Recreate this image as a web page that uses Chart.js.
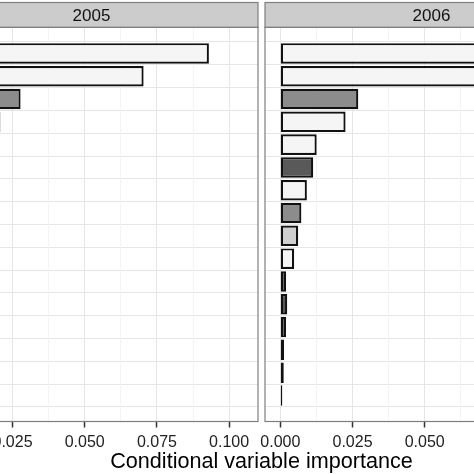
<!DOCTYPE html>
<html>
<head>
<meta charset="utf-8">
<script src="https://cdn.jsdelivr.net/npm/chart.js@4.4.1/dist/chart.umd.min.js"></script>
<style>
  html, body { margin: 0; padding: 0; background: #fff; }
  body { width: 474px; height: 474px; overflow: hidden; position: relative; font-family: "Liberation Sans", Arial, sans-serif; }
  canvas { position: absolute; top: 0; }
  #chart2005 { left: -80px; }
  #chart2006 { left: 260px; }
  #xTitle { position: absolute; left: -75px; width: 673px; top: 449.5px; text-align: center; font-size: 21.6px; line-height: 21.6px; color: #000; white-space: nowrap; }
</style>
</head>
<body>
<canvas id="chart2005" width="340" height="474"></canvas>
<canvas id="chart2006" width="340" height="474"></canvas>
<div id="xTitle">Conditional variable importance</div>
<script>
// variable names sit left of the crop, so they are placeholders
const categories = ["v01", "v02", "v03", "v04", "v05", "v06", "v07", "v08",
  "v09", "v10", "v11", "v12", "v13", "v14", "v15", "v16"];

const values2005 = [0.093, 0.0704, 0.0278, 0.0208, 0.018, 0.015, 0.012, 0.010,
  0.008, 0.006, 0.005, 0.004, 0.003, 0.002, 0.001, 0.0005];
const values2006 = [0.1047, 0.088, 0.0270, 0.0226, 0.0126, 0.0114, 0.0092, 0.0073,
  0.0062, 0.0048, 0.0020, 0.0024, 0.0020, 0.0013, 0.0012, 0.0007];

const fills2005 = ["#f5f5f5", "#f5f5f5", "#8c8c8c", "#cfcfcf", "#f5f5f5", "#595959", "#f5f5f5", "#8c8c8c",
  "#cfcfcf", "#f5f5f5", "#595959", "#595959", "#595959", "#595959", "#595959", "#595959"];
const fills2006 = ["#f5f5f5", "#f5f5f5", "#8c8c8c", "#f5f5f5", "#f5f5f5", "#595959", "#f5f5f5", "#8c8c8c",
  "#cfcfcf", "#f5f5f5", "#595959", "#595959", "#595959", "#595959", "#595959", "#595959"];

const xMajorTicks = [0, 0.025, 0.05, 0.075, 0.1];
const xMinorTicks = [0.0125, 0.0375, 0.0625, 0.0875];
const xLimits = [-0.0053, 0.110];

const FONT = '"Liberation Sans", Arial, sans-serif';

function isMajor(value) {
  return xMajorTicks.some((t) => Math.abs(t - value) < 1e-9);
}

const facetStrip = {
  id: "facetStrip",
  afterDraw(chart, args, opts) {
    const { ctx, chartArea: a } = chart;
    const stripTop = 2.5;
    ctx.save();
    ctx.fillStyle = "#cccccc";
    ctx.fillRect(a.left, stripTop, a.right - a.left, a.top - stripTop);
    ctx.strokeStyle = "#7f7f7f";
    ctx.lineWidth = 1.2;
    ctx.strokeRect(a.left, stripTop, a.right - a.left, a.top - stripTop);
    ctx.strokeRect(a.left, a.top, a.right - a.left, a.bottom - a.top);
    ctx.fillStyle = "#111111";
    ctx.font = "17px " + FONT;
    ctx.textAlign = "center";
    ctx.textBaseline = "middle";
    ctx.fillText(opts.label, (a.left + a.right) / 2, (stripTop + a.top) / 2 + 1);
    ctx.restore();
  }
};

function makePanel(canvasId, year, values, fills, padLeft, padRight) {
  return new Chart(document.getElementById(canvasId), {
    type: "bar",
    data: {
      datasets: [{
        label: year,
        data: values.map((v, i) => ({ x: v, y: i })),
        backgroundColor: fills,
        borderColor: "#111111",
        borderWidth: 2.2,
        borderSkipped: false,
        barPercentage: 0.9,
        categoryPercentage: 1.0
      }]
    },
    options: {
      indexAxis: "y",
      responsive: false,
      animation: false,
      devicePixelRatio: 1,
      layout: { padding: { left: padLeft, right: padRight, top: 27.4, bottom: 0 } },
      plugins: {
        legend: { display: false },
        tooltip: { enabled: false },
        facetStrip: { label: year }
      },
      scales: {
        y: {
          type: "linear",
          reverse: true,
          min: -0.6,
          max: categories.length - 0.4,
          afterBuildTicks: (scale) => {
            scale.ticks = categories.map((c, i) => ({ value: i, label: c }));
          },
          afterFit: (scale) => { scale.width = 0; },
          ticks: { display: false },
          grid: { color: "#e6e6e6", lineWidth: 1, drawTicks: false },
          border: { display: false }
        },
        x: {
          type: "linear",
          min: xLimits[0],
          max: xLimits[1],
          afterBuildTicks: (scale) => {
            scale.ticks = xMajorTicks.concat(xMinorTicks).sort((a, b) => a - b).map((v) => ({ value: v }));
          },
          afterFit: (scale) => {
            scale.height = 52.5;
            scale.paddingLeft = 0;
            scale.paddingRight = 0;
          },
          ticks: {
            autoSkip: false,
            maxRotation: 0,
            padding: 5,
            color: "#222222",
            font: { family: FONT, size: 16 },
            callback: (value) => (isMajor(value) ? value.toFixed(3) : "")
          },
          grid: {
            color: (ctx) => (ctx.tick && isMajor(ctx.tick.value) ? "#e6e6e6" : "#f4f4f4"),
            tickColor: (ctx) => (ctx.tick && isMajor(ctx.tick.value) ? "#333333" : "rgba(0,0,0,0)"),
            lineWidth: 1,
            tickWidth: 1.5,
            tickLength: 6
          },
          border: { display: false }
        }
      }
    },
    plugins: [facetStrip]
  });
}

makePanel("chart2005", "2005", values2005, fills2005, 5, 2);
makePanel("chart2006", "2006", values2006, fills2006, 5, 2);
</script>
</body>
</html>
